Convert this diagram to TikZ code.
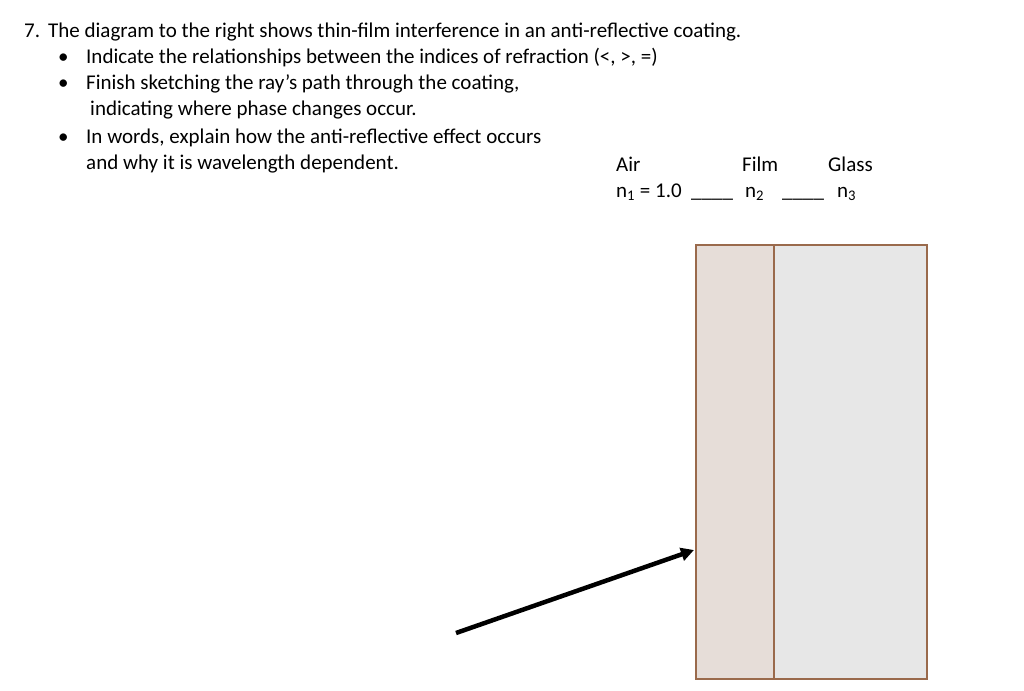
\documentclass[tikz,border=0pt]{standalone}
\usepackage{fontspec}
\setmainfont{Carlito}
\usetikzlibrary{arrows.meta}
\definecolor{filmfill}{HTML}{E6DDD8}
\definecolor{glassfill}{HTML}{E7E7E7}
\definecolor{edgebrown}{HTML}{9A6A4C}
\begin{document}
\begin{tikzpicture}[x=1pt, y=-1pt,
    txt/.style={anchor=base west, inner sep=0pt, font=\fontsize{21}{24}\selectfont},
    layer/.style={draw=edgebrown, line width=1.3pt}]

            \useasboundingbox (0,0) rectangle (1024,690);

            % question text
            \node[txt] (Q7) at (24,38) {7.};
            \node[txt] (Q) at (48,38) {The diagram to the right shows thin-film interference in an anti-reflective coating.};
            \node[txt] (B1) at (58,64) {•};
            \node[txt] (T1) at (86,64) {Indicate the relationships between the indices of refraction (<, >, =)};
            \node[txt] (B2) at (58,90) {•};
            \node[txt] (T2) at (86,90) {Finish sketching the ray’s path through the coating,};
            \node[txt] (T2b) at (90,116) {indicating where phase changes occur.};
            \node[txt] (B3) at (58,143) {•};
            \node[txt] (T3) at (86,143) {In words, explain how the anti-reflective effect occurs};
            \node[txt] (T3b) at (86,169) {and why it is wavelength dependent.};

            % media labels
            \node[txt] (Air) at (616,171) {Air};
            \node[txt] (Film) at (742,171) {Film};
            \node[txt] (Glass) at (828,171) {Glass};
            \node[txt] (N1) at (616,197) {n\textsubscript{1} = 1.0};
            \node[txt] (L1) at (691,197) {\_\_\_\_};
            \node[txt] (N2) at (745,197) {n\textsubscript{2}};
            \node[txt] (L2) at (782,197) {\_\_\_\_};
            \node[txt] (N3) at (837,197) {n\textsubscript{3}};

            % coating and glass
            \draw[layer, fill=glassfill] (774,245) rectangle (927,679);
            \draw[layer, fill=filmfill] (696,245) rectangle (774,679);

            % incoming ray
            \coordinate (RayIn) at (456,633);
            \coordinate (RayHit) at (694,550);
            \draw[line width=4.5pt, -{Triangle[length=13pt, width=13pt]}] (RayIn) -- (RayHit);
        \end{tikzpicture}
\end{document}
